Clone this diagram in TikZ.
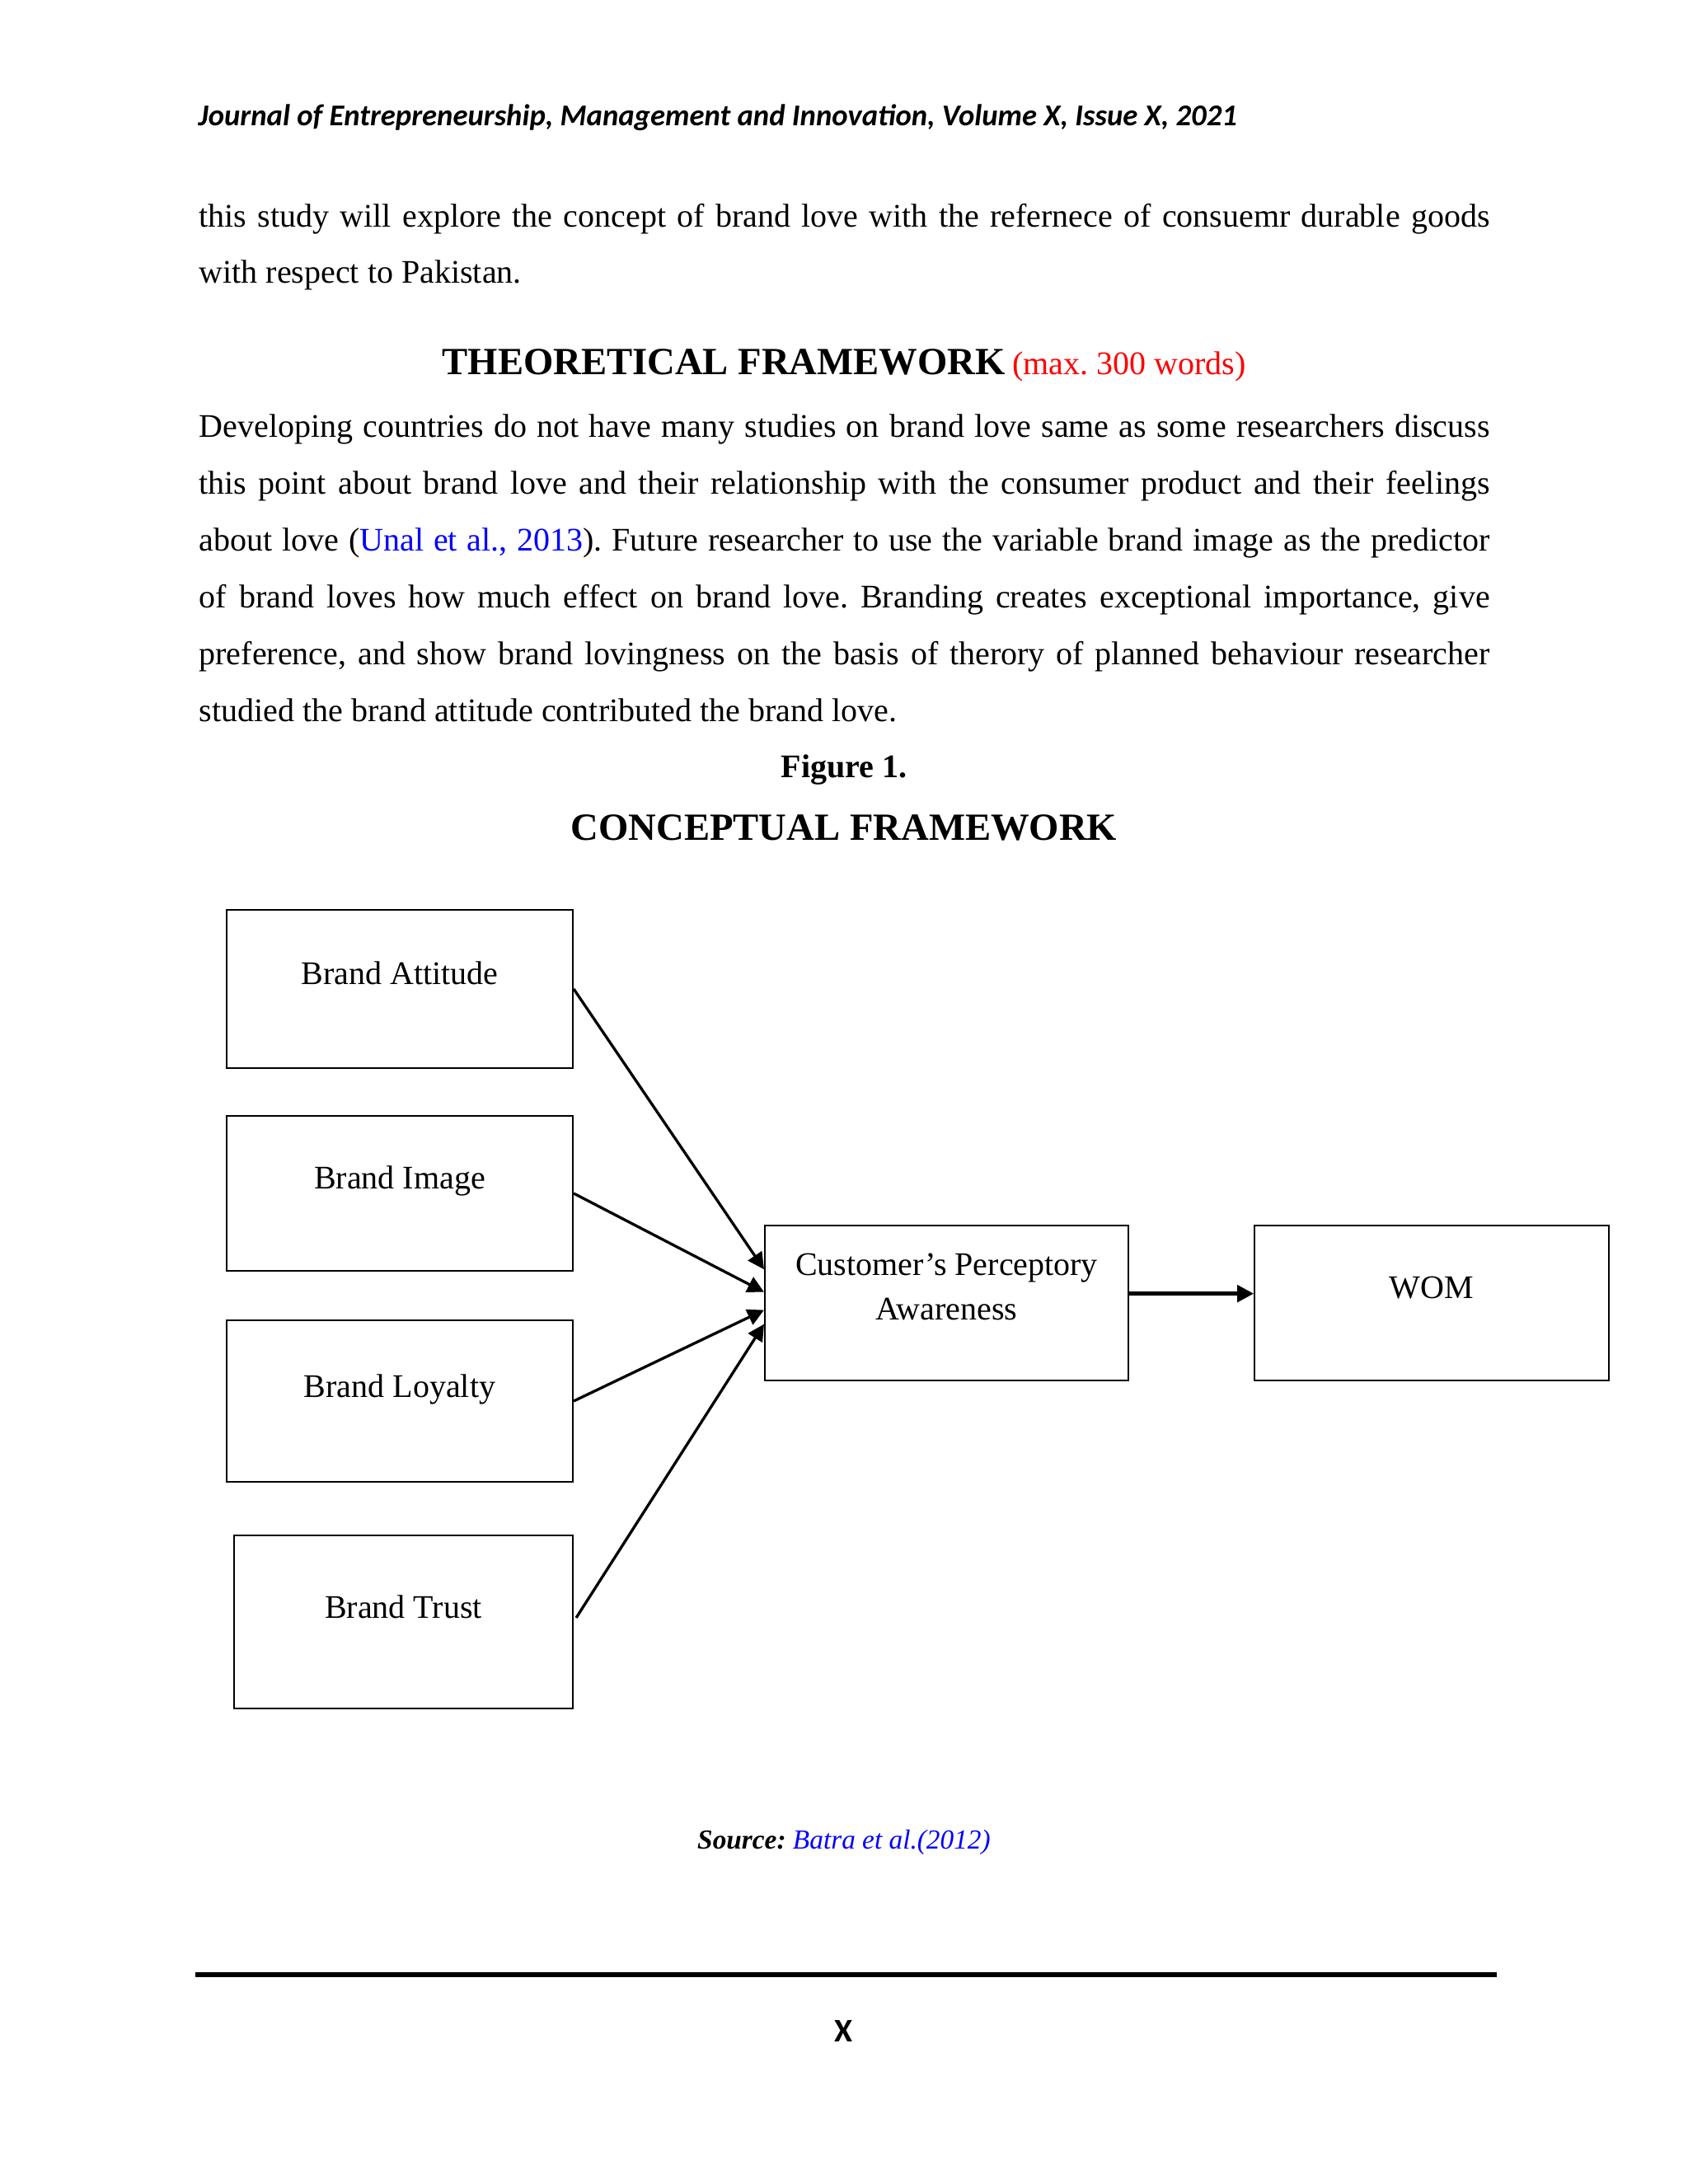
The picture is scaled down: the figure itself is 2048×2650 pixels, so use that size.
\documentclass[tikz,border=0pt]{standalone}
\usepackage{fontspec}
\setmainfont{Liberation Serif}
\newfontfamily\hdfont{Carlito}
\usetikzlibrary{arrows.meta}
\definecolor{citeblue}{RGB}{0,0,255}
\frenchspacing

\begin{document}
\begin{tikzpicture}[x=0.010542cm, y=-0.010542cm,
    box/.style={draw, line width=0.6pt, minimum width=4.43cm, minimum height=1.98cm, inner sep=0pt},
    lbl/.style={anchor=base, inner sep=0pt, font=\fontsize{12}{14.4}\selectfont},
    txt/.style={anchor=base west, inner sep=0pt, font=\fontsize{12}{14.4}\selectfont},
    mid/.style={anchor=base, inner sep=0pt},
    arr/.style={-{Triangle[length=6pt,width=6pt]}, line width=1pt}]
    \useasboundingbox (0,0) rectangle (2048,2650);
    % Page text
    \node[txt, font=\hdfont\bfseries\itshape\fontsize{11}{13}\selectfont] (head) at (240,152)
        {Journal of Entrepreneurship, Management and Innovation, Volume X, Issue X, 2021};
    \node[txt] (p1a) at (241,275) {\makebox[6.5in][s]{this study will explore the concept of brand love with the refernece of consuemr durable goods}};
    \node[txt] (p1b) at (241,343) {with respect to Pakistan.};
    \node[mid] (theo) at (1024,454) {{\fontsize{14}{17}\selectfont\bfseries THEORETICAL FRAMEWORK} {\fontsize{12}{14.4}\selectfont\color{red}(max. 300 words)}};
    \node[txt] (p2a) at (241,530) {\makebox[6.5in][s]{Developing countries do not have many studies on brand love same as some researchers discuss}};
    \node[txt] (p2b) at (241,599) {\makebox[6.5in][s]{this point about brand love and their relationship with the consumer product and their feelings}};
    \node[txt] (p2c) at (241,668) {\makebox[6.5in][s]{about love (\textcolor{citeblue}{Unal et al., 2013}). Future researcher to use the variable brand image as the predictor}};
    \node[txt] (p2d) at (241,737) {\makebox[6.5in][s]{of brand loves how much effect on brand love. Branding creates exceptional importance, give}};
    \node[txt] (p2e) at (241,806) {\makebox[6.5in][s]{preference, and show brand lovingness on the basis of therory of planned behaviour researcher}};
    \node[txt] (p2f) at (241,875) {studied the brand attitude contributed the brand love.};
    \node[mid, font=\bfseries\fontsize{12}{14.4}\selectfont] (fig) at (1024,943) {Figure 1.};
    \node[mid, font=\bfseries\fontsize{14}{17}\selectfont] (ttl) at (1024,1019) {CONCEPTUAL FRAMEWORK};
    % Boxes
    \node[box, minimum height=2.03cm] (att) at (485,1200) {};
    \node[box] (img) at (485,1448) {};
    \node[box, minimum height=2.07cm] (loy) at (485,1700) {};
    \node[box, minimum width=4.33cm, minimum height=2.21cm] (tru) at (489.5,1968) {};
    \node[box, minimum width=4.65cm] (cpa) at (1148.5,1581) {};
    \node[box, minimum width=4.53cm] (wom) at (1737,1581) {};
    \node[lbl] (attL) at (485,1194) {Brand Attitude};
    \node[lbl] (imgL) at (485,1442) {Brand Image};
    \node[lbl] (loyL) at (485,1695) {Brand Loyalty};
    \node[lbl] (truL) at (489.5,1963) {Brand Trust};
    \node[lbl, anchor=center, align=center, font=\fontsize{12}{16.2}\selectfont] (cpaL) at (1148.5,1561) {Customer’s Perceptory\\Awareness};
    \node[lbl] (womL) at (1737,1575) {WOM};
    % Arrows
    \draw[arr] (att.east) -- ([yshift=0.43cm]cpa.west);
    \draw[arr] (img.east) -- ([yshift=0.14cm]cpa.west);
    \draw[arr] (loy.east) -- ([yshift=-0.09cm]cpa.west);
    \draw[arr, shorten <=1.8pt] (tru.east) -- ([yshift=-0.27cm]cpa.west);
    \draw[arr, line width=1.4pt] ([yshift=0.12cm]cpa.east) -- ([yshift=0.12cm]wom.west);
    % Footer
    \node[mid, font=\itshape\fontsize{10}{12}\selectfont] (src) at (1024,2243) {\textbf{Source:} \textcolor{citeblue}{Batra et al.(2012)}};
    \coordinate (ruleL) at (237,2396);
    \coordinate (ruleR) at (1816,2396);
    \draw[line width=1.8pt] (ruleL) -- (ruleR);
    \node[mid, font=\hdfont\bfseries\fontsize{12}{14}\selectfont] (pg) at (1024,2477) {X};
\end{tikzpicture}
\end{document}
